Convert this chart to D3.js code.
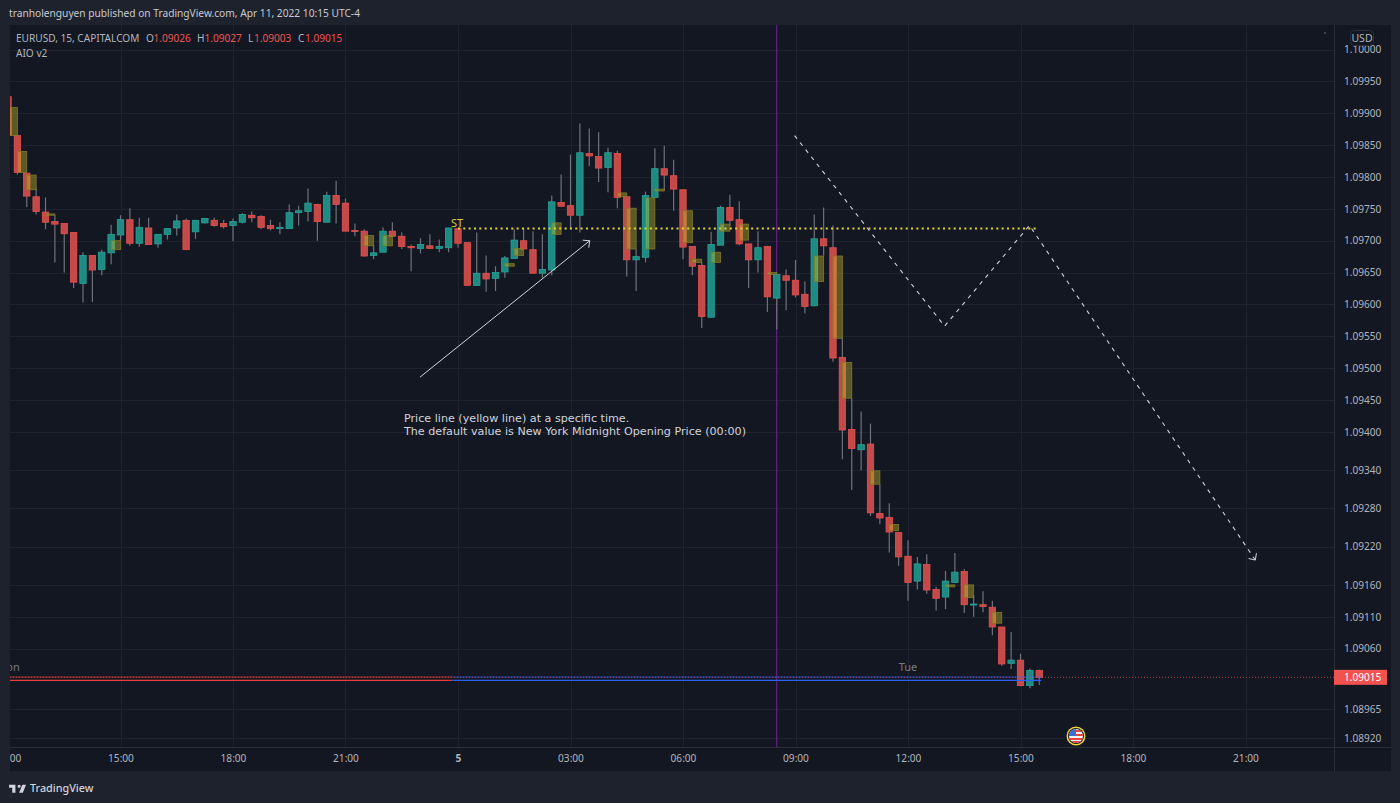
<!DOCTYPE html>
<html>
<head>
<meta charset="utf-8">
<script src="https://d3js.org/d3.v7.min.js"></script>
<style>
html, body { margin: 0; padding: 0; background: #1e222d; }
svg { display: block; }
text { font-family: "Noto Sans", sans-serif; }
</style>
</head>
<body>
<div id="vis"></div>
<script>
// EURUSD 15m bars, one per slot, left to right
var opens = [1.09926,1.09865,1.09806,1.09769,1.09745,1.09730,1.09727,1.09713,1.09633,1.09677,1.09655,1.09681,
	1.09709,1.09733,1.09696,1.09720,1.09695,1.09710,1.09720,1.09732,1.09714,1.09728,1.09732,1.09727,
	1.09724,1.09729,1.09740,1.09738,1.09724,1.09719,1.09719,1.09744,1.09746,1.09757,1.09729,1.09771,
	1.09759,1.09716,1.09715,1.09677,1.09682,1.09715,1.09707,1.09691,1.09688,1.09692,1.09688,1.09689,
	1.09719,1.09697,1.09630,1.09649,1.09641,1.09651,1.09672,1.09700,1.09686,1.09649,1.09654,1.09760,
	1.09755,1.09740,1.09837,1.09832,1.09815,1.09837,1.09769,1.09670,1.09674,1.09768,1.09813,1.09802,
	1.09780,1.09691,1.09661,1.09580,1.09693,1.09752,1.09733,1.09695,1.09670,1.09691,1.09610,1.09645,
	1.09638,1.09616,1.09598,1.09703,1.09689,1.09517,1.09404,1.09372,1.09381,1.09272,1.09266,1.09242,
	1.09205,1.09166,1.09192,1.09153,1.09141,1.09164,1.09181,1.09129,1.09129,1.09125,1.09094,1.09037,
	1.09042,1.09002,1.09026];
var highs = [1.09926,1.09865,1.09806,1.09782,1.09768,1.09740,1.09727,1.09713,1.09682,1.09677,1.09686,1.09725,
	1.09740,1.09751,1.09736,1.09736,1.09710,1.09719,1.09741,1.09735,1.09732,1.09735,1.09736,1.09733,
	1.09735,1.09743,1.09746,1.09740,1.09733,1.09729,1.09757,1.09755,1.09782,1.09758,1.09777,1.09794,
	1.09766,1.09727,1.09718,1.09693,1.09721,1.09729,1.09713,1.09694,1.09704,1.09710,1.09702,1.09720,
	1.09719,1.09697,1.09713,1.09677,1.09660,1.09676,1.09718,1.09719,1.09715,1.09710,1.09771,1.09804,
	1.09835,1.09884,1.09876,1.09870,1.09846,1.09841,1.09769,1.09687,1.09777,1.09845,1.09849,1.09827,
	1.09780,1.09691,1.09666,1.09714,1.09755,1.09772,1.09762,1.09695,1.09715,1.09692,1.09647,1.09655,
	1.09670,1.09636,1.09741,1.09752,1.09724,1.09547,1.09453,1.09432,1.09413,1.09318,1.09288,1.09242,
	1.09230,1.09204,1.09208,1.09157,1.09182,1.09210,1.09185,1.09144,1.09150,1.09135,1.09094,1.09086,
	1.09052,1.09029,1.09027];
var lows = [1.09865,1.09804,1.09753,1.09741,1.09718,1.09666,1.09650,1.09626,1.09603,1.09604,1.09646,1.09663,
	1.09700,1.09692,1.09690,1.09694,1.09689,1.09702,1.09708,1.09686,1.09703,1.09727,1.09722,1.09719,
	1.09699,1.09727,1.09729,1.09718,1.09716,1.09710,1.09719,1.09724,1.09730,1.09700,1.09729,1.09727,
	1.09715,1.09707,1.09675,1.09671,1.09682,1.09707,1.09687,1.09652,1.09680,1.09687,1.09682,1.09682,
	1.09689,1.09629,1.09629,1.09620,1.09621,1.09642,1.09672,1.09687,1.09649,1.09642,1.09646,1.09754,
	1.09718,1.09713,1.09817,1.09792,1.09776,1.09751,1.09644,1.09621,1.09666,1.09768,1.09779,1.09747,
	1.09671,1.09646,1.09563,1.09580,1.09693,1.09724,1.09693,1.09626,1.09650,1.09588,1.09561,1.09591,
	1.09611,1.09586,1.09597,1.09677,1.09510,1.09357,1.09309,1.09340,1.09268,1.09255,1.09211,1.09190,
	1.09135,1.09153,1.09146,1.09120,1.09122,1.09164,1.09116,1.09110,1.09117,1.09081,1.09033,1.09028,
	1.09001,1.08998,1.09003];
var closes = [1.09865,1.09807,1.09770,1.09746,1.09729,1.09726,1.09711,1.09635,1.09677,1.09654,1.09682,1.09710,
	1.09733,1.09696,1.09721,1.09694,1.09710,1.09719,1.09731,1.09686,1.09732,1.09735,1.09724,1.09722,
	1.09730,1.09741,1.09736,1.09721,1.09719,1.09721,1.09744,1.09747,1.09759,1.09730,1.09771,1.09757,
	1.09715,1.09715,1.09676,1.09681,1.09715,1.09707,1.09691,1.09689,1.09694,1.09688,1.09691,1.09720,
	1.09696,1.09630,1.09649,1.09640,1.09650,1.09673,1.09701,1.09687,1.09649,1.09655,1.09761,1.09754,
	1.09740,1.09838,1.09833,1.09814,1.09838,1.09768,1.09670,1.09675,1.09771,1.09813,1.09803,1.09781,
	1.09690,1.09660,1.09581,1.09694,1.09752,1.09732,1.09695,1.09670,1.09689,1.09612,1.09647,1.09638,
	1.09615,1.09597,1.09703,1.09692,1.09516,1.09403,1.09374,1.09380,1.09273,1.09265,1.09243,1.09204,
	1.09164,1.09193,1.09152,1.09139,1.09166,1.09180,1.09129,1.09130,1.09126,1.09094,1.09036,1.09042,
	1.09002,1.09026,1.09015];

// olive higher timeframe boxes from the AIO indicator
var boxBars = [0,1,2,4,11,38,40,53,54,58,65,66,68,69,72,73,75,76,78,81,86,88,89,92,94,100,102,105];
var boxTops = [1.09909,1.09840,1.09803,1.09742,1.09700,1.09708,1.09708,1.09664,1.09688,1.09728,1.09775,1.09751,1.09767,1.09781,
	1.09747,1.09671,1.09682,1.09726,1.09726,1.09650,1.09676,1.09676,1.09509,1.09339,1.09255,1.09160,1.09160,1.09117];
var boxBottoms = [1.09865,1.09807,1.09780,1.09740,1.09686,1.09692,1.09692,1.09660,1.09677,1.09710,1.09769,1.09687,1.09687,1.09778,
	1.09697,1.09666,1.09666,1.09715,1.09701,1.09647,1.09636,1.09547,1.09453,1.09318,1.09245,1.09157,1.09140,1.09100];

// price axis
var priceTicks = [1.10000,1.09950,1.09900,1.09850,1.09800,1.09750,1.09700,1.09650,1.09600,1.09550,1.09500,1.09450,
	1.09400,1.09340,1.09280,1.09220,1.09160,1.09110,1.09060,1.08965,1.08920];
var lastPrice = 1.09015;

// time axis
var timeTicks = [0,12,24,36,48,60,72,84,96,108,120,132];
var timeLabels = ["12:00","15:00","18:00","21:00","5","03:00","06:00","09:00","12:00","15:00","18:00","21:00"];
var sessionBars = [0,96];
var sessionNames = ["Mon","Tue"];

// drawings
var openPrice = 1.09719;
var openPriceBars = [48,109.7];
var sessionSwitchBar = 47.4;
var sessionEndBar = 110.2;
var verticalBar = 82;
var arrowBars = [43.95,62.05];
var arrowPrices = [1.09486,1.09700];
var zigzagBars = [83.9,99.9,108.96,133.05];
var zigzagPrices = [1.09865,1.09566,1.09724,1.09199];

var w = 1400;
var h = 803;
var panel = {left: 10, right: 1334, top: 25, bottom: 747, outer: 1391, foot: 771};
var smallFont = 10.1;

var svg = d3.select("#vis").append("svg")
	.attr("width", w)
	.attr("height", h);

var x = d3.scaleLinear().domain([0,132]).range([8,1245.5]);
var y = d3.scaleLinear().domain([1.0892,1.1]).range([737.9,49.5]);

svg.append("rect").attr("width", w).attr("height", h).attr("fill", "#1e222d");
svg.append("rect")
	.attr("x", panel.left).attr("y", panel.top)
	.attr("width", panel.outer - panel.left).attr("height", panel.foot - panel.top)
	.attr("fill", "#131722");

svg.append("clipPath").attr("id", "plot").append("rect")
	.attr("x", panel.left).attr("y", panel.top)
	.attr("width", panel.right - panel.left).attr("height", panel.bottom - panel.top);

// grid
var grid = svg.append("g").attr("stroke", "#1f2330").attr("clip-path", "url(#plot)");
grid.selectAll(".h").data(priceTicks).enter().append("line")
	.attr("x1", panel.left).attr("x2", panel.right)
	.attr("y1", function(d) { return Math.round(y(d)) + 0.5; })
	.attr("y2", function(d) { return Math.round(y(d)) + 0.5; });
grid.selectAll(".v").data(timeTicks).enter().append("line")
	.attr("y1", panel.top).attr("y2", panel.bottom)
	.attr("x1", function(d) { return Math.round(x(d)) + 0.5; })
	.attr("x2", function(d) { return Math.round(x(d)) + 0.5; });

var plot = svg.append("g").attr("clip-path", "url(#plot)");

// session labels, Mon runs off the left edge like in the original
plot.selectAll(".session").data(sessionBars).enter().append("text")
	.attr("x", function(d) { return x(d); })
	.attr("y", 671)
	.attr("text-anchor", "middle")
	.attr("font-size", 11)
	.attr("fill", "#787b86")
	.text(function(d, i) { return sessionNames[i]; });

// purple line
plot.append("line")
	.attr("x1", x(verticalBar)).attr("x2", x(verticalBar))
	.attr("y1", panel.top).attr("y2", panel.bottom)
	.attr("stroke", "#7b1fa2").attr("stroke-width", 1);

// candles
var bars = opens.map(function(o, i) {
	return {bar: i, o: o, h: highs[i], l: lows[i], c: closes[i]};
});

plot.selectAll(".wick").data(bars).enter().append("line")
	.attr("x1", function(d) { return x(d.bar); })
	.attr("x2", function(d) { return x(d.bar); })
	.attr("y1", function(d) { return y(d.h); })
	.attr("y2", function(d) { return y(d.l); })
	.attr("stroke", "#6f727c")
	.attr("stroke-width", 1.2);

plot.selectAll(".body").data(bars).enter().append("rect")
	.attr("x", function(d) { return x(d.bar) - 3.2; })
	.attr("width", 6.4)
	.attr("y", function(d) { return y(Math.max(d.o, d.c)); })
	.attr("height", function(d) { return Math.max(1, Math.abs(y(d.o) - y(d.c))); })
	.attr("fill", function(d) { return d.c >= d.o ? "#1f8a82" : "#c44a4a"; })
	.attr("stroke", function(d) { return d.c >= d.o ? "#26a69a" : "#e5504e"; })
	.attr("stroke-width", 0.8);

// olive boxes sit over the candles
plot.selectAll(".box").data(boxBars).enter().append("rect")
	.attr("x", function(d) { return x(d); })
	.attr("width", function(d) { return x(d + 1) - x(d); })
	.attr("y", function(d, i) { return y(boxTops[i]); })
	.attr("height", function(d, i) { return y(boxBottoms[i]) - y(boxTops[i]); })
	.attr("fill", "#c8be28")
	.attr("fill-opacity", 0.4)
	.attr("stroke", "#807a28")
	.attr("stroke-width", 0.8);

// session bands at the last price
function band(from, to, colour) {
	plot.append("line").attr("x1", x(from)).attr("x2", x(to))
		.attr("y1", 677).attr("y2", 677)
		.attr("stroke", colour).attr("stroke-width", 1.2).attr("stroke-opacity", 0.7);
	plot.append("line").attr("x1", x(from)).attr("x2", x(to))
		.attr("y1", 680.3).attr("y2", 680.3)
		.attr("stroke", colour).attr("stroke-width", 1.3);
}
band(0, sessionSwitchBar, "#f23a3a");
band(sessionSwitchBar, sessionEndBar, "#2962ff");

plot.append("line")
	.attr("x1", panel.left).attr("x2", panel.right)
	.attr("y1", y(lastPrice)).attr("y2", y(lastPrice))
	.attr("stroke", "#ef5350").attr("stroke-opacity", 0.7)
	.attr("stroke-dasharray", "1,2");

// opening price line
plot.append("line")
	.attr("x1", x(openPriceBars[0])).attr("x2", x(openPriceBars[1]))
	.attr("y1", y(openPrice)).attr("y2", y(openPrice))
	.attr("stroke", "#e2d62c").attr("stroke-width", 2)
	.attr("stroke-dasharray", "2,3.33");
plot.append("text")
	.attr("x", 451).attr("y", 227)
	.attr("font-size", 11)
	.attr("fill", "#d9cb3a")
	.text("ST");

// drawn arrow
var line = d3.line()
	.x(function(d) { return x(d[0]); })
	.y(function(d) { return y(d[1]); });

function arrowHead(from, to, size) {
	var a = Math.atan2(y(to[1]) - y(from[1]), x(to[0]) - x(from[0]));
	var tx = x(to[0]), ty = y(to[1]);
	return "M" + (tx - size * Math.cos(a - 0.75)) + "," + (ty - size * Math.sin(a - 0.75))
		+ "L" + tx + "," + ty
		+ "L" + (tx - size * Math.cos(a + 0.75)) + "," + (ty - size * Math.sin(a + 0.75));
}

var arrowPts = arrowBars.map(function(d, i) { return [d, arrowPrices[i]]; });
plot.append("path").attr("d", line(arrowPts))
	.attr("fill", "none").attr("stroke", "#d1d4dc").attr("stroke-width", 1);
plot.append("path").attr("d", arrowHead(arrowPts[0], arrowPts[1], 7))
	.attr("fill", "none").attr("stroke", "#d1d4dc").attr("stroke-width", 1);

var zigzagPts = zigzagBars.map(function(d, i) { return [d, zigzagPrices[i]]; });
plot.append("path").attr("d", line(zigzagPts))
	.attr("fill", "none").attr("stroke", "#d1d4dc").attr("stroke-width", 1.1)
	.attr("stroke-dasharray", "4,5");
plot.append("path").attr("d", arrowHead(zigzagPts[2], zigzagPts[3], 7))
	.attr("fill", "none").attr("stroke", "#d1d4dc").attr("stroke-width", 1);

// note
var note = svg.append("g").attr("font-size", 11.15).attr("fill", "#d1d4dc");
note.append("text").attr("x", 404).attr("y", 422).style("font-family", "\"DejaVu Sans\", sans-serif").text("Price line (yellow line) at a specific time.");
note.append("text").attr("x", 404).attr("y", 435.3).style("font-family", "\"DejaVu Sans\", sans-serif").text("The default value is New York Midnight Opening Price (00:00)");

// axes frame
var frame = svg.append("g").attr("stroke", "#2a2e39");
frame.append("line").attr("x1", panel.right + 0.5).attr("x2", panel.right + 0.5).attr("y1", panel.top).attr("y2", panel.foot);
frame.append("line").attr("x1", panel.left).attr("x2", panel.outer).attr("y1", panel.bottom + 0.5).attr("y2", panel.bottom + 0.5);

// price axis
var yAxis = d3.axisRight(y)
	.tickValues(priceTicks)
	.tickSize(0)
	.tickPadding(10)
	.tickFormat(d3.format(".5f"));
var yG = svg.append("g").attr("transform", "translate(" + panel.right + ",0)").call(yAxis);
yG.select(".domain").remove();
yG.selectAll("text").attr("font-size", smallFont).attr("fill", "#b2b5be").style("font-family", "\"Noto Sans\", sans-serif");

// time axis
var xAxis = d3.axisBottom(x)
	.tickValues(timeTicks)
	.tickSize(0)
	.tickPadding(8)
	.tickFormat(function(d, i) { return timeLabels[i]; });
var xG = svg.append("g").attr("transform", "translate(0," + panel.bottom + ")").call(xAxis);
xG.select(".domain").remove();
xG.selectAll("text").attr("font-size", smallFont).attr("fill", "#b2b5be").style("font-family", "\"Noto Sans\", sans-serif")
	.attr("font-weight", function(d, i) { return timeLabels[i] === "5" ? "bold" : null; });
svg.append("rect").attr("x", 0).attr("y", panel.bottom + 2).attr("width", panel.left).attr("height", 22).attr("fill", "#1e222d");

// last price tag
svg.append("rect")
	.attr("x", panel.right).attr("y", y(lastPrice) - 7.5)
	.attr("width", 53).attr("height", 15)
	.attr("fill", "#f0524f");
svg.append("text")
	.attr("x", panel.right + 10).attr("y", y(lastPrice) + 3.5)
	.attr("font-size", smallFont).attr("fill", "#ffffff")
	.text(d3.format(".5f")(lastPrice));

// USD box
svg.append("rect").attr("x", 1350.5).attr("y", 30.5).attr("width", 23).attr("height", 15).attr("rx", 4)
	.attr("fill", "#131722").attr("stroke", "#2a2e39");
svg.append("text").attr("x", 1362).attr("y", 41.5).attr("text-anchor", "middle")
	.attr("font-size", 10.5).attr("fill", "#b2b5be").text("USD");
svg.append("circle").attr("cx", 1325).attr("cy", 33).attr("r", 0.8).attr("fill", "#787b86");

// header texts
svg.append("text").attr("x", 9).attr("y", 17).attr("font-size", 10.2).attr("fill", "#c8cad2")
	.text("tranholenguyen published on TradingView.com, Apr 11, 2022 10:15 UTC-4");

var legendParts = [
	{x: 16, t: "EURUSD, 15, CAPITALCOM", c: "#b2b5be"},
	{x: 146, t: "O", c: "#b2b5be"}, {x: 153.5, t: "1.09026", c: "#ef5350"},
	{x: 197, t: "H", c: "#b2b5be"}, {x: 204.5, t: "1.09027", c: "#ef5350"},
	{x: 248, t: "L", c: "#b2b5be"}, {x: 254, t: "1.09003", c: "#ef5350"},
	{x: 298, t: "C", c: "#b2b5be"}, {x: 305, t: "1.09015", c: "#ef5350"}
];
svg.selectAll(".legend").data(legendParts).enter().append("text")
	.attr("x", function(d) { return d.x; })
	.attr("y", 41.5)
	.attr("font-size", smallFont)
	.attr("fill", function(d) { return d.c; })
	.text(function(d) { return d.t; });
svg.append("text").attr("x", 16).attr("y", 56.5).attr("font-size", smallFont).attr("fill", "#b2b5be").text("AIO v2");

// economic event flag
var flag = svg.append("g").attr("transform", "translate(1076,736)");
flag.append("circle").attr("r", 9.5).attr("fill", "#f0d43a");
flag.append("circle").attr("r", 8).attr("fill", "#131722");
flag.append("clipPath").attr("id", "flagClip").append("circle").attr("r", 7);
var flagG = flag.append("g").attr("clip-path", "url(#flagClip)");
flagG.append("rect").attr("x", -8).attr("y", -8).attr("width", 16).attr("height", 16).attr("fill", "#f4f4f4");
[-6, -2, 2, 5].forEach(function(s) {
	flagG.append("rect").attr("x", -8).attr("y", s).attr("width", 16).attr("height", 2).attr("fill", "#e04444");
});
flagG.append("rect").attr("x", -8).attr("y", -8).attr("width", 8).attr("height", 8).attr("fill", "#3c6fd8");

// brand
svg.append("path")
	.attr("d", "M14 6H2v6h6v9h6V6zm14 15h-7l6-15h7l-6 15zm-7-9a3 3 0 1 0 0-6 3 3 0 0 0 0 6z")
	.attr("transform", "translate(8,781.5) scale(0.53)")
	.attr("fill", "#d1d4dc");
svg.append("text").attr("x", 30).attr("y", 792).attr("font-size", 10.8).attr("font-weight", 500).attr("fill", "#d1d4dc").text("TradingView");
</script>
</body>
</html>
